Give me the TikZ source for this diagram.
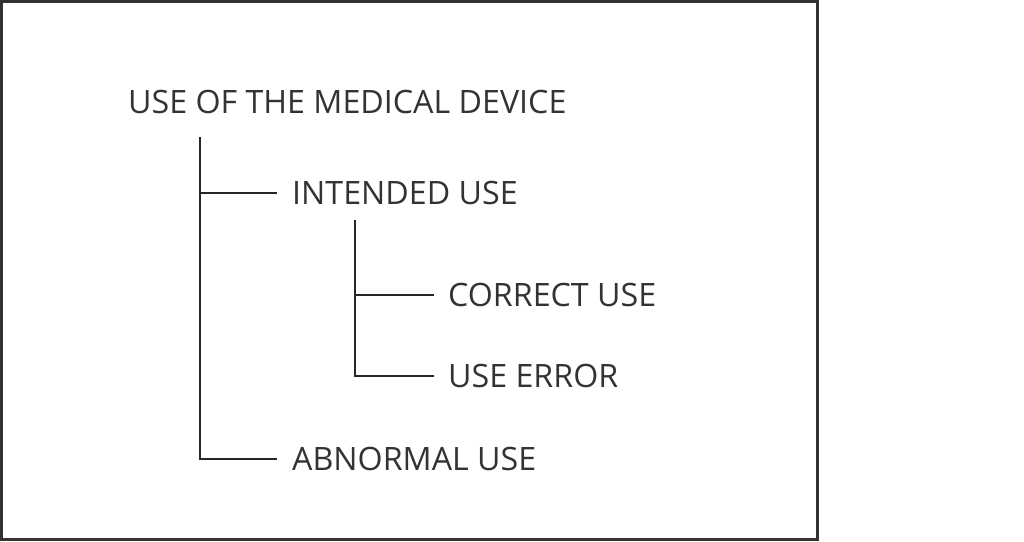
\documentclass[tikz,border=0pt]{standalone}
\usepackage{fontspec}
\setmainfont{Open Sans}
\tikzset{
	lbl/.style={anchor=west, inner sep=0pt, text height=23pt, text depth=0pt, font=\fontsize{32.2}{32.2}\selectfont, text=black!80},
	branch/.style={line width=2.4pt, draw=black!85}
}
\begin{document}
\begin{tikzpicture}[x=1pt,y=-1pt]
	\useasboundingbox (0,0) rectangle (1024,541);
	\draw[line width=2.6pt, draw=black!80] (1.3,1.3) rectangle (817.7,539.4);
	\node[lbl] (dev) at (128,102) {USE OF THE MEDICAL DEVICE};
	\node[lbl] (int) at (292,193) {INTENDED USE};
	\node[lbl] (cor) at (448,295) {CORRECT USE};
	\node[lbl] (err) at (448,376) {USE ERROR};
	\node[lbl] (abn) at (292,459) {ABNORMAL USE};
	\coordinate (t1) at (200,137);
	\coordinate (t2) at (355,220);
	\draw[branch] (t1) |- ([xshift=-15pt]abn.west);
	\draw[branch] (t1 |- int.west) -- ([xshift=-15pt]int.west);
	\draw[branch] (t2) |- ([xshift=-14pt]err.west);
	\draw[branch] (t2 |- cor.west) -- ([xshift=-14pt]cor.west);
\end{tikzpicture}
\end{document}
